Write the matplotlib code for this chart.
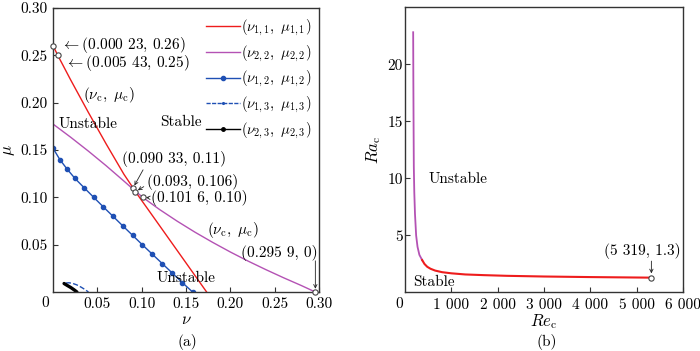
import matplotlib
matplotlib.use("Agg")
import matplotlib.pyplot as plt
from matplotlib.lines import Line2D
import numpy as np

plt.rcParams['font.family'] = ['cmr10', 'DejaVu Serif']
plt.rcParams['mathtext.fontset'] = 'cm'
plt.rcParams['axes.unicode_minus'] = False
plt.rcParams['font.size'] = 11

# ---- (a) neutral curves in the (nu, mu) plane ----
nu11 = [0.00023, 0.00543, 0.02, 0.04, 0.06, 0.08, 0.09033, 0.093, 0.11, 0.13, 0.15, 0.1733]
mu11 = [0.26, 0.25, 0.224, 0.1896, 0.1564, 0.1244, 0.110, 0.106, 0.0836, 0.0572, 0.0308, 0.0]

nu22 = [0.0, 0.02, 0.04, 0.06, 0.08, 0.093, 0.1016, 0.12, 0.14, 0.16, 0.18, 0.20,
        0.22, 0.24, 0.26, 0.28, 0.2959]
mu22 = [0.1775, 0.1635, 0.1488, 0.1334, 0.1172, 0.1065, 0.0998, 0.0873, 0.0749, 0.0633,
        0.0525, 0.0423, 0.0327, 0.0237, 0.0151, 0.0069, 0.0]

nu12 = [0.0, 0.0077, 0.0158, 0.0248, 0.0353, 0.0460, 0.0567, 0.0677, 0.0786, 0.0897,
        0.1007, 0.1120, 0.1233, 0.1346, 0.1458, 0.1575]
mu12 = [0.152, 0.14, 0.13, 0.12, 0.11, 0.10, 0.09, 0.08, 0.07, 0.06, 0.05, 0.04,
        0.03, 0.02, 0.01, 0.0]

nu13 = [0.0145, 0.018, 0.022, 0.027, 0.032, 0.036, 0.040]
mu13 = [0.0095, 0.0098, 0.0092, 0.0075, 0.0050, 0.0027, 0.0]

nu23 = [0.0125, 0.016, 0.020, 0.024, 0.027]
mu23 = [0.0090, 0.0070, 0.0048, 0.0022, 0.0]

crit_nu = [0.00023, 0.00543, 0.09033, 0.093, 0.1016, 0.2959]
crit_mu = [0.26, 0.25, 0.11, 0.106, 0.10, 0.0]

# ---- (b) critical Rayleigh vs Reynolds ----
re_mag = [176, 180, 185, 190, 200, 215, 240, 270, 310, 370]
ra_mag = [22.8, 18.5, 14.5, 11.0, 8.8, 6.9, 5.0, 4.0, 3.3, 2.84]
re_red = [370, 420, 480, 550, 650, 800, 1000, 1300, 1700, 2200, 3000, 4000, 5319]
ra_red = [2.84, 2.5, 2.25, 2.08, 1.92, 1.78, 1.68, 1.58, 1.52, 1.46, 1.40, 1.35, 1.3]

red = '#ee1c1c'
mag = '#b452b4'
blue = '#1f50b4'
spine_c = '#333333'
fs = 11

fig = plt.figure(figsize=(7.0, 3.51), dpi=100)
ax1 = fig.add_axes([0.0757, 0.168, 0.380, 0.809])
ax2 = fig.add_axes([0.5786, 0.1667, 0.397, 0.813])

ax1.plot(nu11, mu11, color=red, lw=1.0)
ax1.plot(nu22, mu22, color=mag, lw=1.0)
ax1.plot(nu12, mu12, color=blue, lw=1.0, marker='o', ms=3)
ax1.plot(nu13, mu13, color=blue, lw=1.0, ls='--')
ax1.plot(nu23, mu23, color='black', lw=2.4, solid_capstyle='round')
ax1.plot(crit_nu, crit_mu, ls='none', marker='o', ms=3.8, mfc='white', mec='#444444',
         mew=0.8, clip_on=False, zorder=5)

handles = [
    Line2D([], [], color=red, lw=1.0),
    Line2D([], [], color=mag, lw=1.0),
    Line2D([], [], color=blue, lw=1.0, marker='o', ms=3),
    Line2D([], [], color=blue, lw=1.0, ls=(0, (3, 1)), marker='.', ms=2.5),
    Line2D([], [], color='black', lw=1.0, marker='o', ms=2.5),
]
labels = [r'$(\nu_{1,1},\ \mu_{1,1})$', r'$(\nu_{2,2},\ \mu_{2,2})$',
          r'$(\nu_{1,2},\ \mu_{1,2})$', r'$(\nu_{1,3},\ \mu_{1,3})$',
          r'$(\nu_{2,3},\ \mu_{2,3})$']
ax1.legend(handles, labels, loc='upper right', bbox_to_anchor=(1.0, 0.99), frameon=False,
           fontsize=10.5, handlelength=2.3, handletextpad=0.1, labelspacing=0.38,
           borderaxespad=0.1)

ax1.set_xlim(0, 0.30)
ax1.set_ylim(0, 0.30)
ax1.set_xticks([0.05, 0.10, 0.15, 0.20, 0.25, 0.30])
ax1.set_xticklabels(['0.05', '0.10', '0.15', '0.20', '0.25', '0.30'])
ax1.set_yticks([0.05, 0.10, 0.15, 0.20, 0.25, 0.30])
ax1.set_yticklabels(['0.05', '0.10', '0.15', '0.20', '0.25', '0.30'])
ax1.tick_params(direction='in', length=3.5, width=0.8, color=spine_c, labelsize=fs)
ax1.tick_params(axis='y', pad=4)
ax1.tick_params(axis='x', pad=4)
ax1.text(-0.030, -0.04, '0', transform=ax1.transAxes, ha='center', va='center', fontsize=fs)
ax1.set_xlabel(r'$\nu$', fontsize=12, labelpad=0)
ax1.set_ylabel(r'$\mu$', fontsize=12, labelpad=2)

ax1.text(0.034, 0.208, r'$(\nu_{\mathrm{c}},\ \mu_{\mathrm{c}})$', va='center', fontsize=fs)
ax1.text(0.174, 0.0655, r'$(\nu_{\mathrm{c}},\ \mu_{\mathrm{c}})$', va='center', fontsize=fs)
ax1.text(0.006, 0.1775, 'Unstable', va='center', fontsize=fs)
ax1.text(0.121, 0.179, 'Stable', va='center', fontsize=fs)
ax1.text(0.117, 0.0148, 'Unstable', va='center', fontsize=fs)

ax1.text(0.0095, 0.2615, r'$\leftarrow$(0.000 23, 0.26)', va='center', fontsize=fs)
ax1.text(0.0130, 0.2415, r'$\leftarrow$(0.005 43, 0.25)', va='center', fontsize=fs)

arr = dict(arrowstyle='->', lw=0.6, color='#222222', shrinkA=0, shrinkB=2, mutation_scale=6)
ax1.annotate('(0.090 33, 0.11)', xy=(0.09033, 0.11), xytext=(0.0775, 0.1405),
             va='center', ha='left', fontsize=fs,
             arrowprops=dict(arr, relpos=(0.22, 0.0)))
ax1.annotate('(0.093, 0.106)', xy=(0.093, 0.106), xytext=(0.1055, 0.1165),
             va='center', ha='left', fontsize=fs,
             arrowprops=dict(arr, relpos=(0.0, 0.3)))
ax1.annotate('(0.101 6, 0.10)', xy=(0.1016, 0.10), xytext=(0.111, 0.0995),
             va='center', ha='left', fontsize=fs,
             arrowprops=dict(arr, relpos=(0.0, 0.5)))
ax1.text(0.2990, 0.0412, '(0.295 9, 0)', va='center', ha='right', fontsize=fs)
ax1.annotate('', xy=(0.2959, 0.002), xytext=(0.2959, 0.033),
             arrowprops=dict(arr, shrinkB=1))

fig.text(0.267, 0.026, '(a)', ha='center', va='center', fontsize=fs)

# ---- right panel ----
ax2.plot(re_mag, ra_mag, color=mag, lw=1.3)
ax2.plot(re_red, ra_red, color=red, lw=1.5)
ax2.plot([re_red[-1]], [ra_red[-1]], ls='none', marker='o', ms=3.8, mfc='white',
         mec='#444444', mew=0.8, zorder=5)
ax2.set_xlim(0, 6000)
ax2.set_ylim(0, 25)
ax2.set_xticks([1000, 2000, 3000, 4000, 5000, 6000])
ax2.set_xticklabels(['1 000', '2 000', '3 000', '4 000', '5 000', '6 000'])
ax2.set_yticks([5, 10, 15, 20])
ax2.set_yticklabels(['5', '10', '15', '20'])
ax2.tick_params(direction='in', length=3.5, width=0.8, color=spine_c, labelsize=fs)
ax2.tick_params(axis='y', pad=1.5)
ax2.tick_params(axis='x', pad=4)
ax2.text(-0.022, -0.04, '0', transform=ax2.transAxes, ha='center', va='center', fontsize=fs)
ax2.set_xlabel(r'$Re_{\mathrm{c}}$', fontsize=12, labelpad=0)
ax2.set_ylabel(r'$Ra_{\mathrm{c}}$', fontsize=12, labelpad=3)

ax2.text(505, 9.9, 'Unstable', va='center', fontsize=fs)
ax2.text(183, 0.94, 'Stable', va='center', fontsize=fs)
ax2.text(5128, 3.62, '(5 319, 1.3)', ha='center', va='center', fontsize=fs)
ax2.annotate('', xy=(5319, 1.55), xytext=(5319, 2.75), arrowprops=dict(arr, shrinkB=1))

fig.text(0.781, 0.026, '(b)', ha='center', va='center', fontsize=fs)

for ax in (ax1, ax2):
    for s in ax.spines.values():
        s.set_color(spine_c)
        s.set_linewidth(1.0)

fig.savefig('out.png', dpi=100)
